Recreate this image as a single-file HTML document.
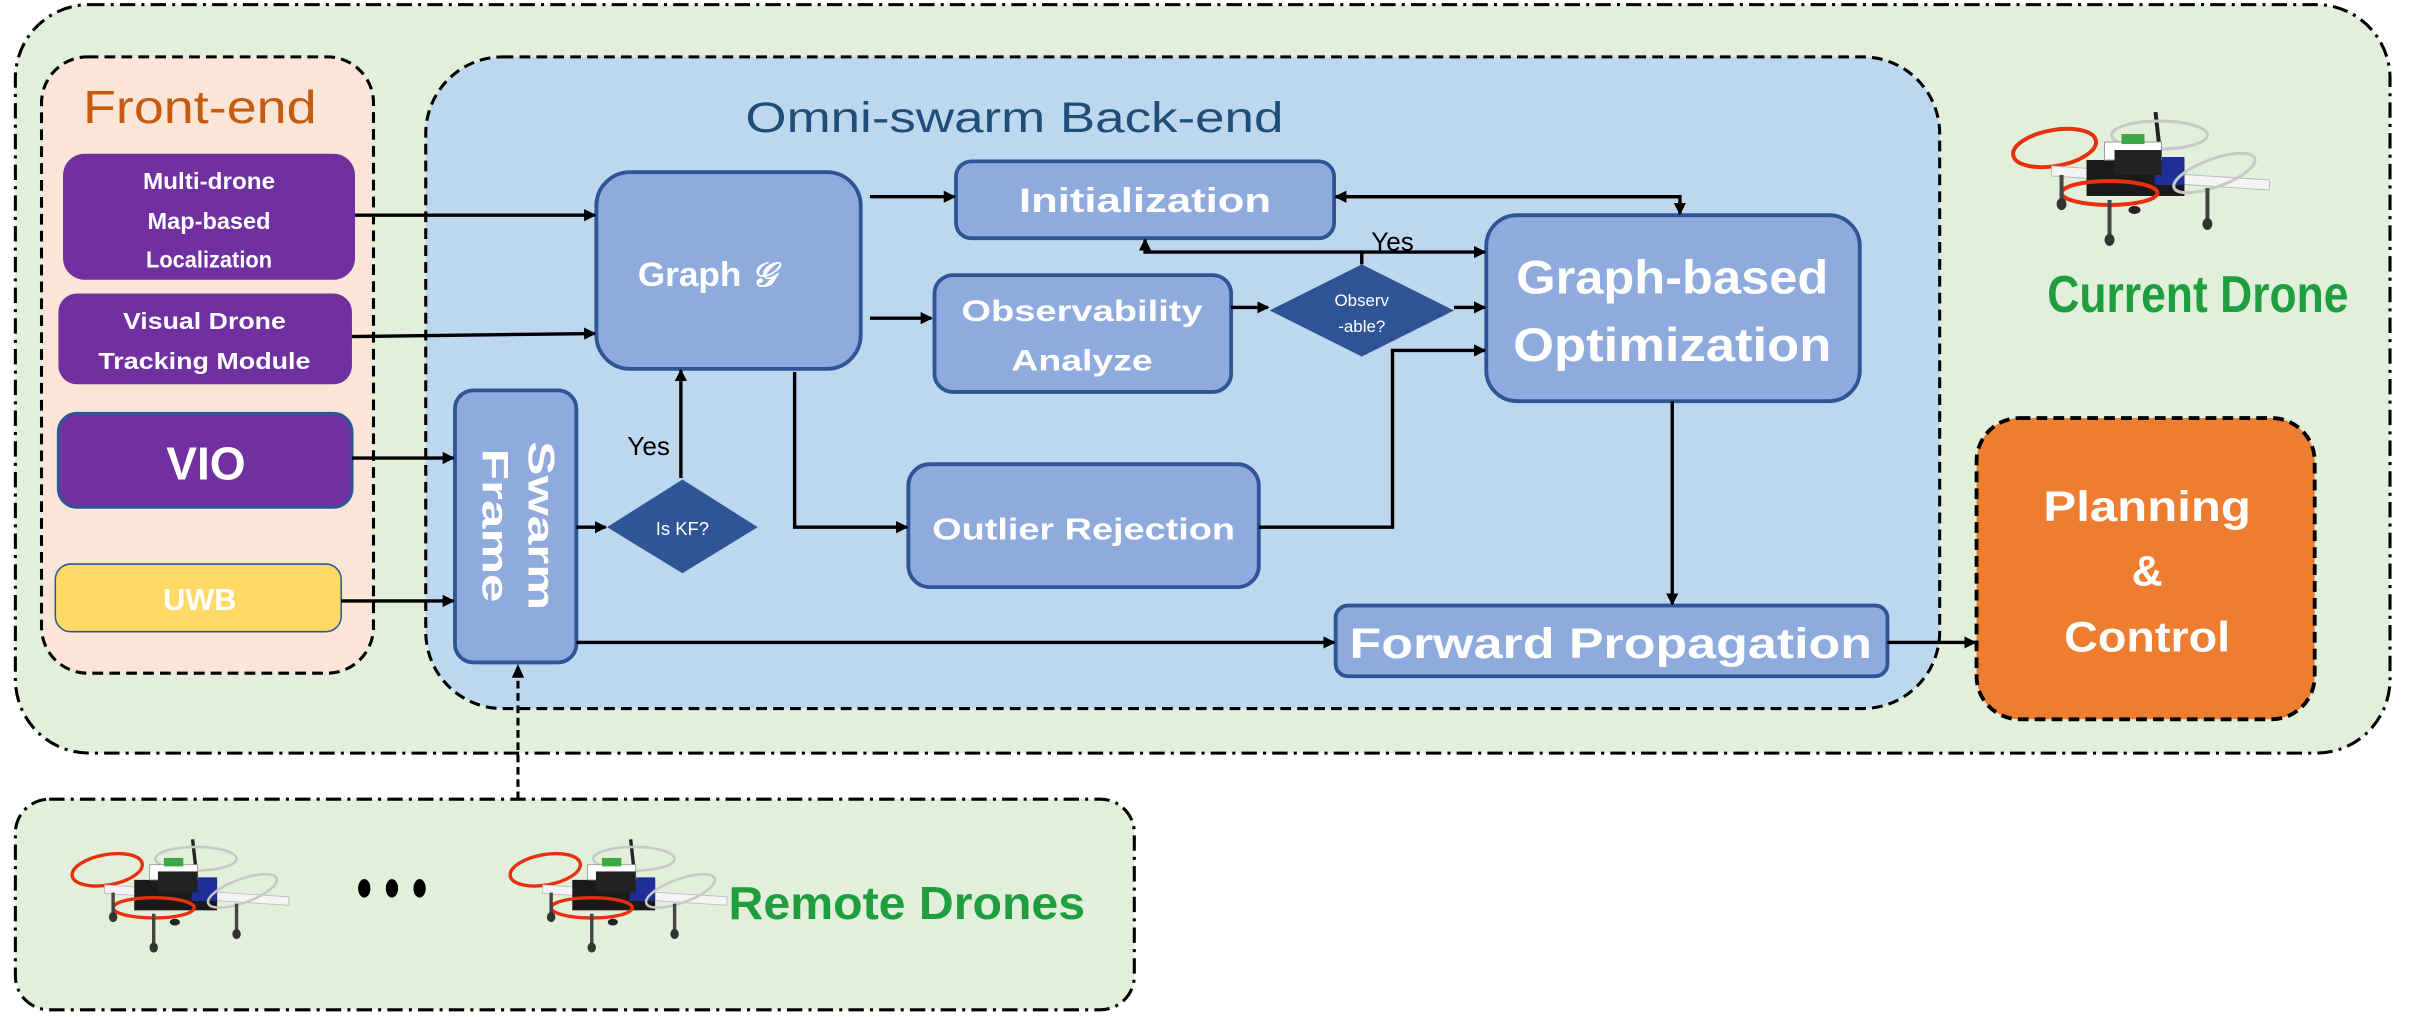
<!DOCTYPE html>
<html><head><meta charset="utf-8"><style>
html,body{margin:0;padding:0;background:#fff;}
svg{display:block;}
text{font-family:"Liberation Sans",sans-serif;}
</style></head><body>
<svg width="2410" height="1017" viewBox="0 0 1568 661.7" preserveAspectRatio="none" xmlns="http://www.w3.org/2000/svg">
<defs>
<marker id="ah" markerWidth="8" markerHeight="8" refX="7" refY="4" orient="auto" markerUnits="userSpaceOnUse">
<path d="M0,0 L8,4 L0,8 Z" fill="#000"/></marker>
<g id="drone">
<line x1="176" y1="22" x2="180" y2="58" stroke="#222" stroke-width="4"/>
<ellipse cx="180" cy="45" rx="48" ry="14" fill="none" stroke="#c8c8c8" stroke-width="3"/>
<ellipse cx="75" cy="58" rx="42" ry="18" transform="rotate(-10 75 58)" fill="none" stroke="#e8300e" stroke-width="4"/>
<polygon points="72,76 290,90 290,100 72,86" fill="#f4f4f4" stroke="#bbb" stroke-width="1"/>
<rect x="107" y="70" width="98" height="36" fill="#1a1a1a"/>
<rect x="175" y="67" width="30" height="28" fill="#1f2f9a"/>
<rect x="125" y="52" width="57" height="18" fill="#fff" stroke="#999"/>
<rect x="135" y="60" width="47" height="25" fill="#222"/>
<rect x="142" y="44" width="23" height="10" fill="#3aa845"/>
<ellipse cx="235" cy="83" rx="43" ry="14" transform="rotate(-20 235 83)" fill="none" stroke="#c8c8c8" stroke-width="3"/>
<ellipse cx="130" cy="103" rx="48" ry="12" fill="none" stroke="#e8300e" stroke-width="4"/>
<line x1="82" y1="85" x2="82" y2="112" stroke="#444" stroke-width="4"/><ellipse cx="82" cy="114" rx="5" ry="6" fill="#333"/>
<line x1="130" y1="110" x2="130" y2="148" stroke="#444" stroke-width="4"/><ellipse cx="130" cy="150" rx="5" ry="6" fill="#333"/>
<line x1="228" y1="98" x2="228" y2="132" stroke="#444" stroke-width="4"/><ellipse cx="228" cy="134" rx="5" ry="6" fill="#333"/>
<ellipse cx="155" cy="120" rx="6" ry="4" fill="#222"/>
</g>
</defs>

<!-- outer boxes -->
<rect x="10" y="3" width="1545" height="487" rx="48" fill="#e2efda" stroke="#000" stroke-width="2" stroke-dasharray="10,4,2,4"/>
<rect x="10" y="520" width="728" height="137" rx="22" fill="#e2efda" stroke="#000" stroke-width="2" stroke-dasharray="10,4,2,4"/>
<rect x="27" y="37" width="216" height="401" rx="30" fill="#fbe5d6" stroke="#000" stroke-width="2" stroke-dasharray="7,4"/>
<rect x="277" y="37" width="985" height="424" rx="50" fill="#bdd7ee" stroke="#000" stroke-width="2" stroke-dasharray="7,4"/>

<text x="130" y="80" font-size="30" fill="#c55a11" text-anchor="middle" textLength="152" lengthAdjust="spacingAndGlyphs">Front-end</text>
<text x="660" y="86" font-size="28" fill="#1f4e79" text-anchor="middle" textLength="350" lengthAdjust="spacingAndGlyphs">Omni-swarm Back-end</text>

<!-- front-end modules -->
<rect x="41" y="100" width="190" height="82" rx="14" fill="#7030a0"/>
<g font-weight="bold" font-size="15" fill="#fff" text-anchor="middle">
<text x="136" y="123" textLength="86" lengthAdjust="spacingAndGlyphs">Multi-drone</text>
<text x="136" y="149" textLength="80" lengthAdjust="spacingAndGlyphs">Map-based</text>
<text x="136" y="174" textLength="82" lengthAdjust="spacingAndGlyphs">Localization</text>
</g>
<rect x="38" y="191" width="191" height="59" rx="12" fill="#7030a0"/>
<g font-weight="bold" font-size="15" fill="#fff" text-anchor="middle">
<text x="133" y="214" textLength="106" lengthAdjust="spacingAndGlyphs">Visual Drone</text>
<text x="133" y="240" textLength="138" lengthAdjust="spacingAndGlyphs">Tracking Module</text>
</g>
<rect x="38" y="269" width="191" height="61" rx="12" fill="#7030a0" stroke="#2f5597" stroke-width="2"/>
<text x="134" y="312" font-weight="bold" font-size="30" fill="#fff" text-anchor="middle">VIO</text>
<rect x="36" y="367" width="186" height="44" rx="10" fill="#ffd966" stroke="#2f5597" stroke-width="1"/>
<text x="130" y="397" font-weight="bold" font-size="20" fill="#fff" text-anchor="middle">UWB</text>

<!-- back-end nodes -->
<g fill="#8faadc" stroke="#2f5597" stroke-width="2.5">
<rect x="296" y="254" width="79" height="177" rx="12"/>
<rect x="388" y="112" width="172" height="128" rx="22"/>
<rect x="622" y="105" width="246" height="50" rx="10"/>
<rect x="608" y="179" width="193" height="76" rx="12"/>
<rect x="967" y="140" width="243" height="121" rx="20"/>
<rect x="591" y="302" width="228" height="80" rx="14"/>
<rect x="869" y="394" width="359" height="46" rx="8"/>
</g>
<polygon points="444,312 493,343 444,373 395,343" fill="#2f5597"/>
<polygon points="886,172 946,202 886,232 826,202" fill="#2f5597"/>

<g fill="#fff" font-weight="bold" text-anchor="middle">
<text x="336" y="342" font-size="24" transform="rotate(90 336 342)" dy="-8" textLength="110" lengthAdjust="spacingAndGlyphs">Swarm</text>
<text x="336" y="342" font-size="24" transform="rotate(90 336 342)" dy="22" textLength="100" lengthAdjust="spacingAndGlyphs">Frame</text>
<text x="460" y="186" font-size="22" textLength="90" lengthAdjust="spacingAndGlyphs">Graph <tspan font-style="italic" font-family="Liberation Serif">𝒢</tspan></text>
<text x="745" y="138" font-size="22" textLength="164" lengthAdjust="spacingAndGlyphs">Initialization</text>
<text x="704" y="209" font-size="19" textLength="157" lengthAdjust="spacingAndGlyphs">Observability</text>
<text x="704" y="241" font-size="19" textLength="92" lengthAdjust="spacingAndGlyphs">Analyze</text>
<text x="1088" y="191" font-size="31" textLength="203" lengthAdjust="spacingAndGlyphs">Graph-based</text>
<text x="1088" y="235" font-size="31" textLength="207" lengthAdjust="spacingAndGlyphs">Optimization</text>
<text x="705" y="351" font-size="20" textLength="197" lengthAdjust="spacingAndGlyphs">Outlier Rejection</text>
<text x="1048" y="428" font-size="28" textLength="340" lengthAdjust="spacingAndGlyphs">Forward Propagation</text>
</g>
<text x="444" y="348" font-size="12" fill="#fff" text-anchor="middle">Is KF?</text>
<text x="886" y="199" font-size="11" fill="#fff" text-anchor="middle">Observ</text>
<text x="886" y="216" font-size="11" fill="#fff" text-anchor="middle">-able?</text>
<text x="422" y="296" font-size="17" fill="#000" text-anchor="middle">Yes</text>
<text x="906" y="163" font-size="17" fill="#000" text-anchor="middle">Yes</text>

<!-- Planning -->
<rect x="1286" y="272" width="220" height="196" rx="28" fill="#ed7d31" stroke="#000" stroke-width="2.5" stroke-dasharray="7,4"/>
<g fill="#fff" font-weight="bold" font-size="28" text-anchor="middle">
<text x="1397" y="339" textLength="135" lengthAdjust="spacingAndGlyphs">Planning</text>
<text x="1397" y="381">&amp;</text>
<text x="1397" y="424" textLength="108" lengthAdjust="spacingAndGlyphs">Control</text>
</g>

<text x="1430" y="203" font-size="34" font-weight="bold" fill="#1e9e3e" text-anchor="middle" textLength="196" lengthAdjust="spacingAndGlyphs">Current Drone</text>
<text x="590" y="598" font-size="30" font-weight="bold" fill="#1e9e3e" text-anchor="middle" textLength="232" lengthAdjust="spacingAndGlyphs">Remote Drones</text>
<g fill="#000"><ellipse cx="237" cy="578" rx="4" ry="6"/><ellipse cx="255" cy="578" rx="4" ry="6"/><ellipse cx="273" cy="578" rx="4" ry="6"/></g>

<use href="#drone" transform="translate(1288,58.6) scale(0.65)"/>
<use href="#drone" transform="translate(28.5,534) scale(0.55)"/>
<use href="#drone" transform="translate(313.5,534) scale(0.55)"/>

<!-- connectors -->
<g stroke="#000" stroke-width="2.2" fill="none" marker-end="url(#ah)">
<line x1="231" y1="140" x2="387" y2="140"/>
<line x1="229" y1="219" x2="387" y2="217"/>
<line x1="229" y1="298" x2="295" y2="298"/>
<line x1="222" y1="391" x2="295" y2="391"/>
<line x1="375" y1="343" x2="394" y2="343"/>
<line x1="443" y1="311" x2="443" y2="241"/>
<line x1="566" y1="128" x2="621" y2="128"/>
<line x1="566" y1="207" x2="606" y2="207"/>
<polyline points="517,242 517,343 590,343"/>
<line x1="801" y1="200" x2="825" y2="200"/>
<line x1="946" y1="200" x2="966" y2="200"/>
<polyline points="886,172 886,164 966,164"/>
<polyline points="886,164 745,164 745,156"/>
<polyline points="1093,128 869,128"/>
<polyline points="869,128 1093,128 1093,139"/>
<polyline points="819,343 906,343 906,228 966,228"/>
<line x1="1088" y1="261" x2="1088" y2="393"/>
<line x1="375" y1="418" x2="868" y2="418"/>
<line x1="1228" y1="418" x2="1285" y2="418"/>
</g>
<line x1="337" y1="520" x2="337" y2="441" stroke="#000" stroke-width="2" stroke-dasharray="5,3"/>
<path d="M333,441 L337,432 L341,441 Z" fill="#000"/>
</svg>
</body></html>
